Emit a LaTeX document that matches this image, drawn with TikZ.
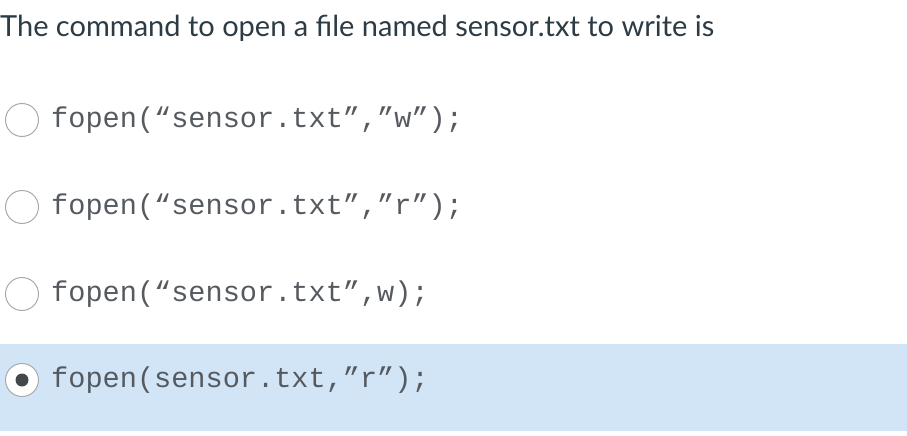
\documentclass[tikz,border=0pt]{standalone}
\usepackage{fontspec}
\setmainfont{Lato}
\setmonofont{Liberation Mono}
\definecolor{txt}{HTML}{2D3B45}
\definecolor{code}{HTML}{555A60}
\definecolor{band}{HTML}{D1E5F7}
\definecolor{ring}{HTML}{A6A9AD}
\tikzset{x=1pt,y=-1pt,
 radio/.style={circle,draw=ring,line width=1pt,fill=white,minimum size=33pt,inner sep=0pt},
 opt/.style={anchor=west,inner sep=0pt,text=code,font=\ttfamily\fontsize{28.6}{32}\selectfont}}
\begin{document}
\begin{tikzpicture}
\useasboundingbox (0,0) rectangle (907,436);
\fill[band] (0,344) rectangle (907,431);
\node[anchor=west,inner sep=0pt,text=txt,font=\fontsize{29}{34}\selectfont] (q) at (0,28) {The command to open a file named sensor.txt to write is};
\node[radio] (r1) at (22,120) {};
\node[opt] (o1) at (51,120) {fopen(“sensor.txt”,”w”);};
\node[radio] (r2) at (22,207) {};
\node[opt] (o2) at (51,207) {fopen(“sensor.txt”,”r”);};
\node[radio] (r3) at (22,294) {};
\node[opt] (o3) at (51,294) {fopen(“sensor.txt”,w);};
\node[radio] (r4) at (22,380) {};
\fill[code!80!black] (r4.center) circle (6.5);
\node[opt] (o4) at (51,380) {fopen(sensor.txt,”r”);};
\end{tikzpicture}
\end{document}
